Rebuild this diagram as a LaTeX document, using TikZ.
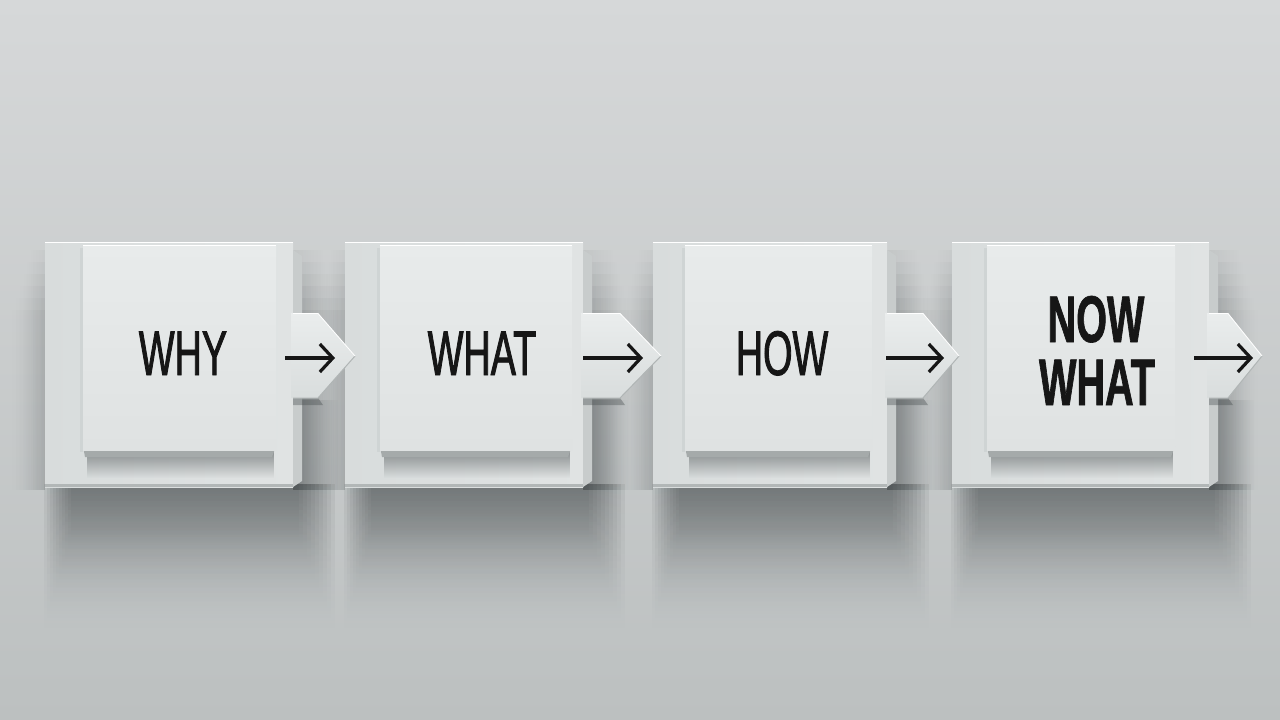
\documentclass[tikz,border=0pt]{standalone}
\usepackage{fontspec}
\newfontfamily\lblfont[FakeStretch=0.6,FakeBold=1.3]{Liberation Sans}
\newfontfamily\lblboldfont[FakeStretch=0.6,FakeBold=1.0]{Liberation Sans Bold}
\usetikzlibrary{arrows.meta,fadings}
\definecolor{bgtop}{RGB}{214,216,217}
\definecolor{bgmid}{RGB}{216,219,219}
\definecolor{bgbot}{RGB}{188,192,192}
\definecolor{shadowcol}{RGB}{62,68,70}
\definecolor{platecol}{RGB}{224,227,227}
\definecolor{plateleft}{RGB}{216,220,220}
\definecolor{sidecol}{RGB}{200,204,204}
\definecolor{edgecol}{RGB}{178,183,183}
\definecolor{tabtop}{RGB}{234,237,237}
\definecolor{tabbot}{RGB}{217,221,221}
\definecolor{tabedge}{RGB}{176,181,181}
\definecolor{tiletop}{RGB}{232,235,235}
\definecolor{tilebot}{RGB}{223,226,226}
\definecolor{tilebottom}{RGB}{165,170,170}
\definecolor{ink}{RGB}{22,22,22}
\tikzfading[name=fadedown, top color=transparent!0, bottom color=transparent!100]
\tikzfading[name=faderight, left color=transparent!0, right color=transparent!100]
\tikzfading[name=fadeleft, left color=transparent!100, right color=transparent!0]
\tikzset{
  lbl/.style={font=\lblfont\fontsize{63}{63}\selectfont, text=ink, inner sep=0pt, anchor=base},
  lblb/.style={font=\lblboldfont\fontsize{66}{66}\selectfont, text=ink, inner sep=0pt, anchor=base},
  arr/.style={draw=ink, line width=3.2pt, -{Straight Barb[length=13pt,width=28pt]}},
}
\begin{document}
\begin{tikzpicture}[x=1pt,y=-1pt]
\useasboundingbox (0,0) rectangle (1280,720);
\shade[top color=bgtop, middle color=bgmid, bottom color=bgbot] (0,0) rectangle (1280,720);

% shadows on the wall
\foreach \pl/\pr/\tl/\tr/\sh/\tip in {45/293/83/276/318/355, 345/583/380/572/620/661, 653/887/685/872/923/959, 952/1209/987/1175/1228/1262}{
  \foreach \k in {0,...,9}{
    \fill[shadowcol, opacity=0.085, path fading=fadedown] (\pl+26-3*\k,484) rectangle (\pr+6+4*\k,540+10*\k);
  }
  \foreach \k in {0,...,5}{
    \fill[shadowcol, opacity=0.07, path fading=faderight] (\pr,250+12*\k) rectangle (\pr+30+4*\k,490);
    \fill[shadowcol, opacity=0.04, path fading=fadeleft] (\pl-15-4*\k,250+12*\k) rectangle (\pl,490);
  }
  \fill[shadowcol, opacity=0.3, path fading=faderight] (\pr,400) rectangle (\pr+45,490);
}

% base plates
\foreach \pl/\pr/\tl/\tr/\sh/\tip in {45/293/83/276/318/355, 345/583/380/572/620/661, 653/887/685/872/923/959, 952/1209/987/1175/1228/1262}{
  \shade[left color=plateleft, right color=platecol] (\pl,242) rectangle (\pr,487);
  \fill[sidecol] (\pr,250) -- (\pr+9,256) -- (\pr+9,481) -- (\pr,487) -- cycle;
  \fill[edgecol] (\pl,484) rectangle (\pr,487);
  \draw[white, line width=1pt] (\pl,242.5) -- (\pr,242.5);
}

% arrow tabs
\foreach \pl/\pr/\tl/\tr/\sh/\tip in {45/293/83/276/318/355, 345/583/380/572/620/661, 653/887/685/872/923/959, 952/1209/987/1175/1228/1262}{
  \fill[shadowcol, opacity=0.35] (\pr,398) -- (\sh,398) -- (\sh+5,405) -- (\pr,405) -- cycle;
  \shade[top color=tabtop, bottom color=tabbot] (\pr-2,313) -- (\sh,313) -- (\tip,356) -- (\sh,398) -- (\pr-2,398) -- cycle;
  \draw[tabedge, line width=1pt] (\tip,356) -- (\sh,398) -- (\pr,398);
  \draw[white, line width=0.8pt] (\pr,313.5) -- (\sh,313.5) -- (\tip,356);
}

% raised tiles
\foreach \pl/\pr/\tl/\tr/\sh/\tip in {45/293/83/276/318/355, 345/583/380/572/620/661, 653/887/685/872/923/959, 952/1209/987/1175/1228/1262}{
  \fill[shadowcol, opacity=0.5, path fading=fadedown] (\tl+4,452) rectangle (\tr-2,478);
  \fill[shadowcol, opacity=0.06] (\tl-3,248) rectangle (\tl,452);
  \fill[tilebottom] (\tl,446) -- (\tr,446) -- (\tr-4,457) -- (\tl+2,457) -- cycle;
  \shade[top color=tiletop, bottom color=tilebot] (\tl,245) rectangle (\tr,450);
  \draw[white, line width=1.2pt] (\tl,245.6) -- (\tr,245.6);
}

% labels
\node[lbl] (why) at (183,375) {WHY};
\node[lbl] (what) at (482,375) {WHAT};
\node[lbl] (how) at (782,375) {HOW};
\node[lblb] (now) at (1096,342) {NOW};
\node[lblb] (nowwhat) at (1097,405) {WHAT};

% arrows
\coordinate (a1s) at (285,358); \coordinate (a1e) at (335,358);
\coordinate (a2s) at (583,358); \coordinate (a2e) at (643,358);
\coordinate (a3s) at (886,358); \coordinate (a3e) at (944,358);
\coordinate (a4s) at (1194,358); \coordinate (a4e) at (1253,358);
\draw[arr] (a1s) -- (a1e);
\draw[arr] (a2s) -- (a2e);
\draw[arr] (a3s) -- (a3e);
\draw[arr] (a4s) -- (a4e);
\end{tikzpicture}
\end{document}
